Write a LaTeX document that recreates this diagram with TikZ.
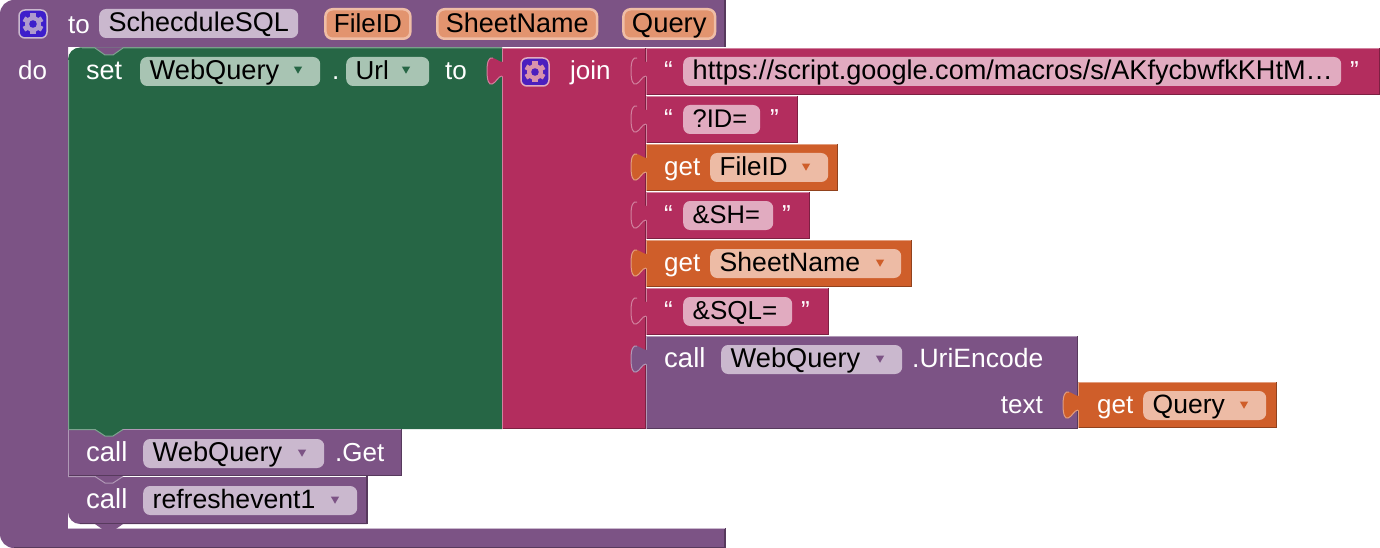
\documentclass[tikz,border=0pt]{standalone}
\usepackage{fontspec}
\setmainfont{Liberation Sans}
\usetikzlibrary{positioning, shapes.geometric}

\definecolor{procpurple}{HTML}{7C5385}
\definecolor{procfield}{HTML}{CAB8CE}
\definecolor{setgreen}{HTML}{266645}
\definecolor{setfield}{HTML}{A8C4B3}
\definecolor{textred}{HTML}{B32D5E}
\definecolor{textfield}{HTML}{E1ABC0}
\definecolor{getorange}{HTML}{CF5E2A}
\definecolor{getfield}{HTML}{EDBBA5}
\definecolor{argfill}{HTML}{E2946F}
\definecolor{argrim}{HTML}{EFBDA6}
\definecolor{iconblue}{HTML}{3D1FCB}
\definecolor{iconviolet}{HTML}{4C1FBE}

\tikzset{
  fs/.style={font=\fontsize{#1}{30}\selectfont},
  blocklabel/.style={anchor=base west, inner sep=0pt, text=white, fs=26, yshift=-0.4pt},
  field/.style={anchor=west, inner xsep=9.5pt, inner ysep=0pt, text height=22.5pt, text depth=6.5pt,
    rounded corners=7pt, text=black, fs=26, align=left},
  procf/.style={field, fill=procfield},
  setf/.style={field, fill=setfield},
  textf/.style={field, fill=textfield},
  getf/.style={field, fill=getfield},
  argf/.style={field, fill=argfill, draw=argrim, line width=2.5pt, inner xsep=8.5pt, text height=23pt, text depth=6.5pt},
  iconbox/.style={inner sep=0pt, minimum size=28pt, rounded corners=6pt, line width=1.5pt},
  arrowdown/.style={regular polygon, regular polygon sides=3, shape border rotate=180, inner sep=0pt, minimum size=9.5pt},
  gearicon/.pic={
    \fill[#1] (0,0) circle[radius=8];
    \foreach \a in {0,60,...,300}
      \fill[#1, rotate=\a] (-2.6,-10.5) rectangle (2.6,-6);
  }
}

% one block body with its light and dark rims
\newcommand{\blockbody}[5]{
  \fill[#1] (#2,#3) rectangle (#4,#5);
  \draw[#1!70!black, line width=1.5pt] (#4-0.7,#3) -- (#4-0.7,#5-0.7) -- (#2,#5-0.7);
  \draw[#1!60!white, line width=1pt] (#2+0.5,#5) -- (#2+0.5,#3+0.5) -- (#4-1,#3+0.5);
}
% puzzle tab on the left side of a block
\newcommand{\blocktab}[3]{
  \fill[#1] (#2+1,#3+14) .. controls (#2-3,#3+14) and (#2-5,#3+11) .. (#2-9,#3+10)
    .. controls (#2-13,#3+9) and (#2-15,#3+13) .. (#2-15,#3+23)
    .. controls (#2-15,#3+33) and (#2-13,#3+37) .. (#2-10,#3+36)
    .. controls (#2-6,#3+35) and (#2-4,#3+28) .. (#2+1,#3+28) -- cycle;
  \draw[#1!60!white, line width=1pt] (#2-9,#3+10)
    .. controls (#2-13,#3+9) and (#2-15,#3+13) .. (#2-15,#3+23)
    .. controls (#2-15,#3+33) and (#2-13,#3+37) .. (#2-10,#3+36)
    .. controls (#2-6,#3+35) and (#2-4,#3+28) .. (#2,#3+28);
}
% bump under a statement
\newcommand{\blockbump}[2]{
  \fill[#1] (95,#2) -- (105,#2+7) -- (113,#2+7) -- (123,#2) -- cycle;
  \draw[#1!60!white, line width=1pt] (68,#2+0.5) -- (95,#2+0.5) -- (105,#2+7) -- (113,#2+7) -- (123,#2+0.5);
}

\begin{document}
\begin{tikzpicture}[x=1pt,y=-1pt]
\useasboundingbox (0,0) rectangle (1380,548);

%procedure frame
\fill[procpurple, rounded corners=14pt] (100,0) -- (0,0) -- (0,548) -- (100,548) [sharp corners] -- (725,548) -- (725,528) -- (68,528) -- (68,47) -- (725,47) -- (725,0) -- cycle;
\draw[procpurple!70!black, line width=1.5pt] (725,0) -- (725,47) (725,528) -- (725,547.3) -- (14,547.3);
\draw[procfield, line width=1pt] (68,528.5) -- (725,528.5);
\node[iconbox, fill=iconblue, draw=procfield] (gear0) at (33,24) {};
\pic at (gear0) {gearicon={procfield!80!iconblue}};
\fill[iconblue] (gear0) circle[radius=3.8];
\node[blocklabel] (to0) at (68,33) {to};
\node[procf, fs=27, text width=180pt] (procname) at (99,23.5) {SchecduleSQL};
\node[argf] (argfile) at (324.2,24) {FileID};
\node[argf, fs=27] (argsheet) at (436.2,24) {SheetName};
\node[argf, fs=27.4] (argquery) at (622.2,24) {Query};
\node[blocklabel] (do0) at (18,79) {do};

%set block
\fill[setgreen, rounded corners=12pt] (100,47.5) -- (68,47.5) -- (68,100) [sharp corners] -- (68,429) -- (502,429) -- (502,47.5) -- cycle;
\fill[procpurple] (95,47.5) -- (105,55) -- (113,55) -- (123,47.5) -- cycle;
\draw[setgreen!60!white, line width=1pt] (68.5,429) -- (68.5,60) (82,48) -- (95,48) -- (105,55) -- (113,55) -- (123,48) -- (502,48);
\node[blocklabel, fs=27] (set0) at (86,79) {set};
\node[setf, fs=27.2, text width=161pt] (setcomp) at (140,71.5) {WebQuery};
\node[arrowdown, fill=setgreen] at (298,69) {};
\node[blocklabel] (dot0) at (332,79) {.};
\node[setf, text width=64pt] (setprop) at (346,71.5) {Url};
\node[arrowdown, fill=setgreen] at (406,69) {};
\node[blocklabel] (to1) at (445,79) {to};

%join block
\blockbody{textred}{502}{48}{646}{429}
\blocktab{textred}{502}{48}
\node[iconbox, fill=iconviolet, draw=textfield] (gear1) at (535,72) {};
\pic at (gear1) {gearicon={textfield!80!textred}};
\fill[iconviolet] (gear1) circle[radius=3.8];
\node[blocklabel] (join0) at (570,79) {join};

%url text
\blockbody{textred}{646}{48}{1380}{95}
\blocktab{textred}{646}{48}
\node[blocklabel] (q1a) at (664,79) {“};
\node[textf, fs=27.1, text width=639pt] (url0) at (683,71.5) {https://script.google.com/macros/s/AKfycbwfkKHtM…};
\node[blocklabel] (q1b) at (1350,79) {”};

%id text
\blockbody{textred}{646}{96}{798}{143}
\blocktab{textred}{646}{96}
\node[blocklabel] (q2a) at (664,127) {“};
\node[textf, fs=25.5, text width=58pt] (idtext) at (683,119.5) {?ID=};
\node[blocklabel] (q2b) at (770,127) {”};

%get fileid
\blockbody{getorange}{646}{144}{838}{191}
\blocktab{getorange}{646}{144}
\node[blocklabel] (get1) at (664,175) {get};
\node[getf, text width=99pt] (getfile) at (710,167.5) {FileID};
\node[arrowdown, fill=getorange] at (806,166) {};

%sheet text
\blockbody{textred}{646}{192}{810}{239}
\blocktab{textred}{646}{192}
\node[blocklabel] (q3a) at (664,223) {“};
\node[textf, fs=25.5, text width=71pt] (shtext) at (683,215.5) {\&SH=};
\node[blocklabel] (q3b) at (782,223) {”};

%get sheetname
\blockbody{getorange}{646}{240}{912}{287}
\blocktab{getorange}{646}{240}
\node[blocklabel] (get2) at (664,271) {get};
\node[getf, fs=26.6, text width=172pt] (getsheet) at (710,263.5) {SheetName};
\node[arrowdown, fill=getorange] at (880,262) {};

%sql text
\blockbody{textred}{646}{288}{829}{335}
\blocktab{textred}{646}{288}
\node[blocklabel] (q4a) at (664,319) {“};
\node[textf, text width=90pt] (sqltext) at (683,311.5) {\&SQL=};
\node[blocklabel] (q4b) at (801,319) {”};

%uriencode call
\blockbody{procpurple}{646}{336}{1078}{429}
\blocktab{procpurple}{646}{336}
\node[blocklabel, fs=27.5] (call1) at (664,367) {call};
\node[procf, fs=27.2, text width=162pt] (callcomp) at (721,359.5) {WebQuery};
\node[arrowdown, fill=procpurple] at (880,358) {};
\node[blocklabel, fs=26.5] (uri0) at (912,367) {.UriEncode};
\node[blocklabel, anchor=base east] (text0) at (1043,413) {text};

%get query
\blockbody{getorange}{1078}{382}{1277}{428}
\blocktab{getorange}{1078}{382}
\node[blocklabel] (get3) at (1097,413) {get};
\node[getf, fs=26.5, text width=104pt] (getquery) at (1143,405.5) {Query};
\node[arrowdown, fill=getorange] at (1244,404) {};

%call webquery.get
\blockbody{procpurple}{68}{429}{402}{476}
\blockbump{setgreen}{429}
\node[blocklabel, fs=27.5] (call2) at (86,461) {call};
\node[procf, fs=27.2, text width=162pt] (getcomp) at (143,453.5) {WebQuery};
\node[arrowdown, fill=procpurple] at (302,452) {};
\node[blocklabel] (get4) at (335,461) {.Get};

%call refreshevent1
\fill[white] (68,500) rectangle (100,528);
\fill[procpurple, rounded corners=12pt] (68,477) -- (68,524) -- (100,524) [sharp corners] -- (367,524) -- (367,477) -- cycle;
\draw[procpurple!70!black, line width=1.5pt] (367,476) -- (367,523.3) -- (80,523.3);
\blockbump{procpurple}{476}
\fill[procpurple] (95,524) -- (105,531) -- (113,531) -- (123,524) -- cycle;
\node[blocklabel, fs=27.5] (call3) at (86,508) {call};
\node[procf, fs=26.6, text width=195pt] (refresh0) at (143,500.5) {refreshevent1};
\node[arrowdown, fill=procpurple] at (335,499) {};

\end{tikzpicture}
\end{document}
